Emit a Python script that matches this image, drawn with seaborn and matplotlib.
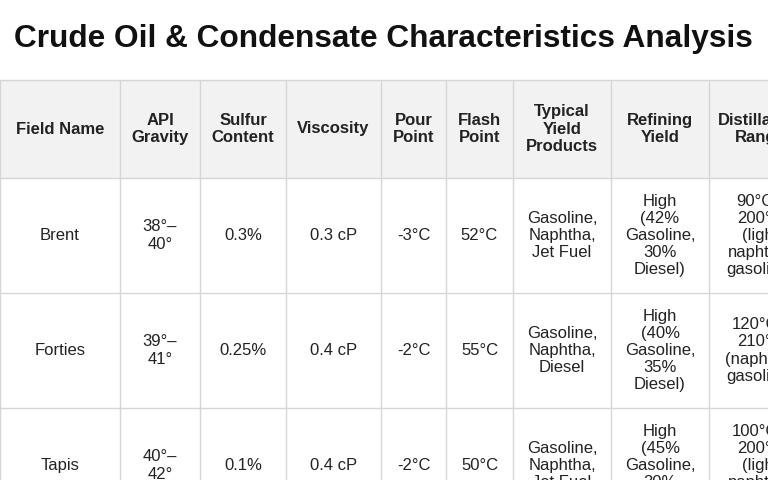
import matplotlib.pyplot as plt
import seaborn as sns

headers = ["Field Name", "API\nGravity", "Sulfur\nContent", "Viscosity", "Pour\nPoint",
           "Flash\nPoint", "Typical\nYield\nProducts", "Refining\nYield", "Distillation\nRange"]
fields = ["Brent", "Forties", "Tapis"]
api_gravity = ["38°–\n40°", "39°–\n41°", "40°–\n42°"]
sulfur = ["0.3%", "0.25%", "0.1%"]
viscosity = ["0.3 cP", "0.4 cP", "0.4 cP"]
pour_point = ["-3°C", "-2°C", "-2°C"]
flash_point = ["52°C", "55°C", "50°C"]
yield_products = ["Gasoline,\nNaphtha,\nJet Fuel", "Gasoline,\nNaphtha,\nDiesel", "Gasoline,\nNaphtha,\nJet Fuel"]
refining_yield = ["High\n(42%\nGasoline,\n30%\nDiesel)", "High\n(40%\nGasoline,\n35%\nDiesel)",
                  "High\n(45%\nGasoline,\n30%\nDiesel)"]
distillation = ["90°C–\n200°C\n(light\nnaphtha,\ngasoline)", "120°C–\n210°C\n(naphtha,\ngasoline)",
                "100°C–\n200°C\n(light\nnaphtha,\ngasoline)"]

rows = list(zip(fields, api_gravity, sulfur, viscosity, pour_point, flash_point,
                yield_products, refining_yield, distillation))

# layout in pixels
col_edges = [0, 120, 200, 286, 381, 446, 513, 611, 709, 811]
row_edges = [80, 178, 293, 408, 523]

sns.set_theme(style="white")
plt.rcParams['font.family'] = ['Liberation Sans', 'DejaVu Sans']

fig = plt.figure(figsize=(7.68, 4.8), dpi=100)
ax = fig.add_axes([0, 0, 1, 1])
ax.set_xlim(0, 768)
ax.set_ylim(480, 0)
ax.axis("off")

fig.text(0.5 - 1 / 768, 1 - 39 / 480, "Crude Oil & Condensate Characteristics Analysis",
         ha="center", va="center", fontsize=22.8, fontweight="bold", color="#111111")

ax.add_patch(plt.Rectangle((0, row_edges[0]), col_edges[-1], row_edges[1] - row_edges[0],
                           facecolor="#f2f2f2", edgecolor="none"))
for y in row_edges:
    ax.plot([0, col_edges[-1]], [y, y], color="#d6d6d6", lw=1)
for x in col_edges:
    ax.plot([x, x], [row_edges[0], row_edges[-1]], color="#d6d6d6", lw=1)

def cell(text, c, r, bold=False):
    xc = (col_edges[c] + col_edges[c + 1]) / 2
    yc = (row_edges[r] + row_edges[r + 1]) / 2
    ax.text(xc, yc, text, ha="center", va="center", fontsize=12, linespacing=1.17,
            fontweight="bold" if bold else "normal", color="#222222", clip_on=True)

for c, h in enumerate(headers):
    cell(h, c, 0, bold=True)
for r, row in enumerate(rows):
    for c, v in enumerate(row):
        cell(v, c, r + 1)

fig.savefig("out.png", dpi=100)
